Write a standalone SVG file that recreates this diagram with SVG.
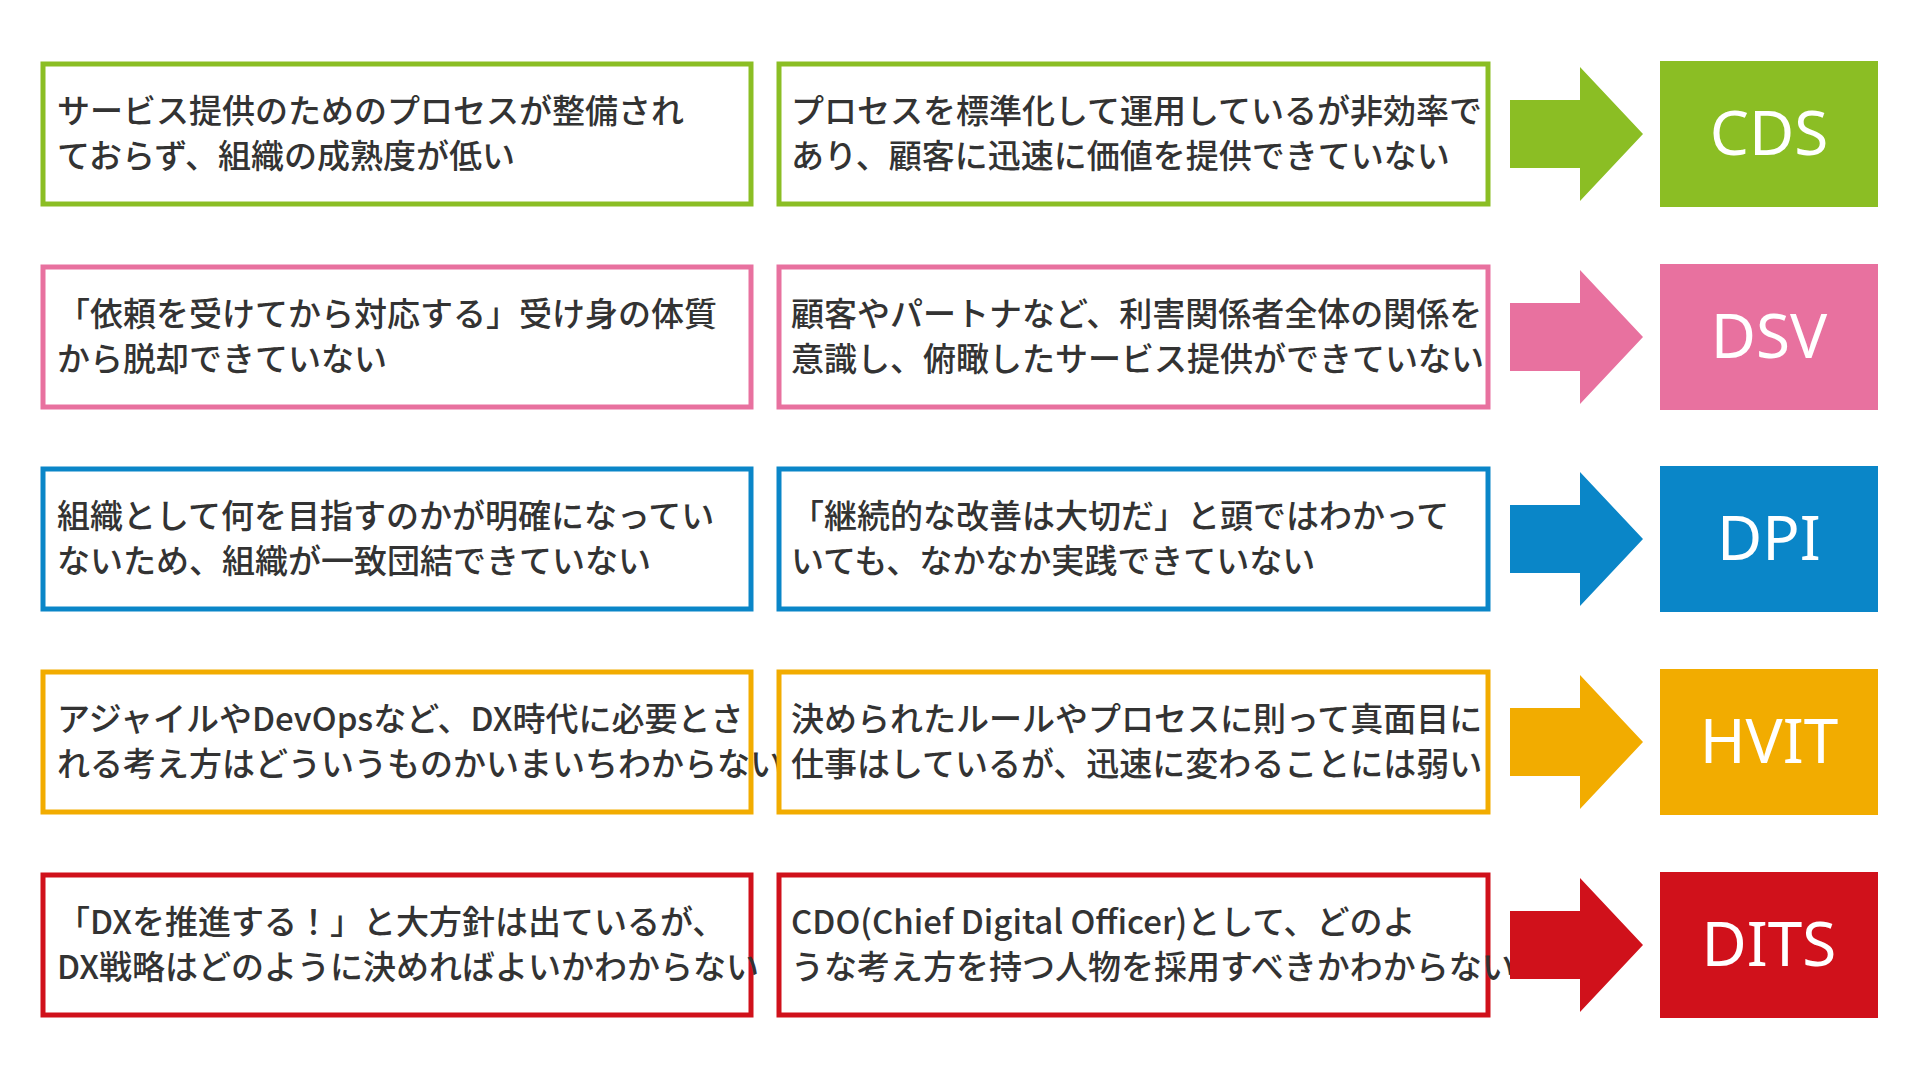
<svg xmlns="http://www.w3.org/2000/svg" width="1920" height="1080" viewBox="0 0 1920 1080">
<style>
.b{fill:#fff;stroke-width:5}
.t{font-family:"Noto Sans CJK JP","Noto Sans",sans-serif;font-size:33px;font-weight:500;fill:#333}
.l{font-family:"Noto Sans","Liberation Sans",sans-serif;font-size:62px;fill:#fff;text-anchor:middle}
.g{stroke:#8BBE24}.gf{fill:#8BBE24}
.p{stroke:#E8719F}.pf{fill:#E8719F}
.c{stroke:#0A86C8}.cf{fill:#0A86C8}
.o{stroke:#F2AC00}.of{fill:#F2AC00}
.r{stroke:#D0111B}.rf{fill:#D0111B}
</style>
<defs><path id="ar" d="M1510,33 H1580 V0 L1643,67 L1580,134 V101 H1510 Z"/></defs>
<rect width="1920" height="1080" fill="#fff"/>
<g id="row1" transform="translate(0,64)">
<rect class="b g" x="43" y="0" width="708" height="140"/>
<text class="t" x="57" y="59">サービス提供のためのプロセスが整備され</text><text class="t" x="57" y="104">ておらず、組織の成熟度が低い</text>
<rect class="b g" x="779" y="0" width="709" height="140"/>
<text class="t" x="791" y="59">プロセスを標準化して運用しているが非効率で</text><text class="t" x="791" y="104">あり、顧客に迅速に価値を提供できていない</text>
<use href="#ar" class="gf" y="3"/>
<rect class="gf" x="1660" y="-3" width="218" height="146"/><text class="l" x="1769" y="91">CDS</text>
</g>
<g id="row2" transform="translate(0,267)">
<rect class="b p" x="43" y="0" width="708" height="140"/>
<text class="t" x="57" y="59">「依頼を受けてから対応する」受け身の体質</text><text class="t" x="57" y="104">から脱却できていない</text>
<rect class="b p" x="779" y="0" width="709" height="140"/>
<text class="t" x="791" y="59">顧客やパートナなど、利害関係者全体の関係を</text><text class="t" x="791" y="104">意識し、俯瞰したサービス提供ができていない</text>
<use href="#ar" class="pf" y="3"/>
<rect class="pf" x="1660" y="-3" width="218" height="146"/><text class="l" x="1769" y="91">DSV</text>
</g>
<g id="row3" transform="translate(0,469)">
<rect class="b c" x="43" y="0" width="708" height="140"/>
<text class="t" x="57" y="59">組織として何を目指すのかが明確になってい</text><text class="t" x="57" y="104">ないため、組織が一致団結できていない</text>
<rect class="b c" x="779" y="0" width="709" height="140"/>
<text class="t" x="791" y="59">「継続的な改善は大切だ」と頭ではわかって</text><text class="t" x="791" y="104">いても、なかなか実践できていない</text>
<use href="#ar" class="cf" y="3"/>
<rect class="cf" x="1660" y="-3" width="218" height="146"/><text class="l" x="1769" y="91">DPI</text>
</g>
<g id="row4" transform="translate(0,672)">
<rect class="b o" x="43" y="0" width="708" height="140"/>
<text class="t" x="57" y="59">アジャイルやDevOpsなど、DX時代に必要とさ</text><text class="t" x="57" y="104">れる考え方はどういうものかいまいちわからない</text>
<rect class="b o" x="779" y="0" width="709" height="140"/>
<text class="t" x="791" y="59">決められたルールやプロセスに則って真面目に</text><text class="t" x="791" y="104">仕事はしているが、迅速に変わることには弱い</text>
<use href="#ar" class="of" y="3"/>
<rect class="of" x="1660" y="-3" width="218" height="146"/><text class="l" x="1769" y="91">HVIT</text>
</g>
<g id="row5" transform="translate(0,875)">
<rect class="b r" x="43" y="0" width="708" height="140"/>
<text class="t" x="57" y="59">「DXを推進する！」と大方針は出ているが、</text><text class="t" x="57" y="104">DX戦略はどのように決めればよいかわからない</text>
<rect class="b r" x="779" y="0" width="709" height="140"/>
<text class="t" x="791" y="59">CDO(Chief Digital Officer)として、どのよ</text><text class="t" x="791" y="104">うな考え方を持つ人物を採用すべきかわからない</text>
<use href="#ar" class="rf" y="3"/>
<rect class="rf" x="1660" y="-3" width="218" height="146"/><text class="l" x="1769" y="91">DITS</text>
</g>
<g id="connectors"/>
</svg>
